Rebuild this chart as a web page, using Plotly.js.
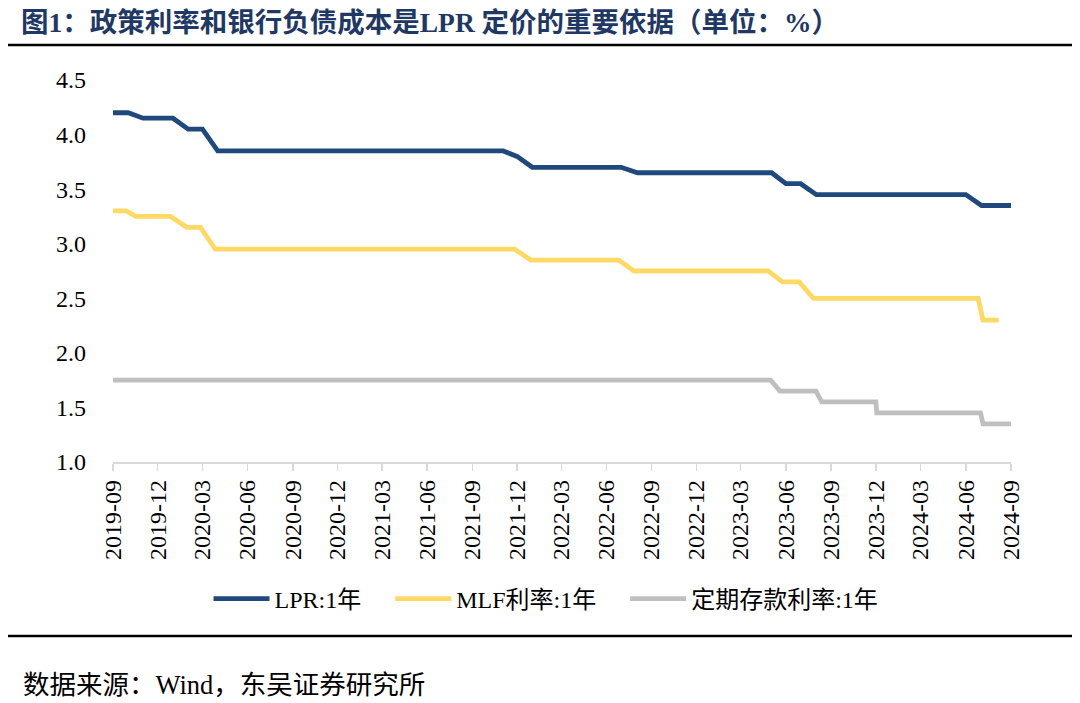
<!DOCTYPE html>
<html>
<head>
<meta charset="utf-8">
<script src="https://cdn.plot.ly/plotly-3.0.1.min.js"></script>
<style>
  html, body { margin: 0; padding: 0; background: #ffffff; }
  #chart { width: 1080px; height: 703px; }
</style>
</head>
<body>
<div id="chart"></div>
<script>
// ---------- data ----------
const chartTitle = '图1：政策利率和银行负债成本是LPR 定价的重要依据（单位：%）';
const sourceText = '数据来源：Wind，东吴证券研究所';
const seriesNames = ['LPR:1年', 'MLF利率:1年', '定期存款利率:1年'];

// LPR (monthly fixing dates)
const lprDates = [
  '2019-09-20','2019-10-21','2019-11-20','2019-12-20','2020-01-20','2020-02-20','2020-03-20','2020-04-20',
  '2020-05-20','2020-06-22','2020-07-20','2020-08-20','2020-09-21','2020-10-20','2020-11-20','2020-12-21',
  '2021-01-20','2021-02-20','2021-03-22','2021-04-20','2021-05-20','2021-06-21','2021-07-20','2021-08-20',
  '2021-09-22','2021-10-20','2021-11-22','2021-12-20','2022-01-20','2022-02-21','2022-03-21','2022-04-20',
  '2022-05-20','2022-06-20','2022-07-20','2022-08-22','2022-09-20','2022-10-20','2022-11-21','2022-12-20',
  '2023-01-20','2023-02-20','2023-03-20','2023-04-20','2023-05-22','2023-06-20','2023-07-20','2023-08-21',
  '2023-09-20','2023-10-20','2023-11-20','2023-12-20','2024-01-22','2024-02-20','2024-03-20','2024-04-22',
  '2024-05-20','2024-06-20','2024-07-22','2024-08-20','2024-09-20'
];
const lprValues = [
  4.20,4.20,4.15,4.15,4.15,4.05,4.05,3.85,
  3.85,3.85,3.85,3.85,3.85,3.85,3.85,3.85,
  3.85,3.85,3.85,3.85,3.85,3.85,3.85,3.85,
  3.85,3.85,3.85,3.80,3.70,3.70,3.70,3.70,
  3.70,3.70,3.70,3.65,3.65,3.65,3.65,3.65,
  3.65,3.65,3.65,3.65,3.65,3.55,3.55,3.45,
  3.45,3.45,3.45,3.45,3.45,3.45,3.45,3.45,
  3.45,3.45,3.35,3.35,3.35
];

// MLF (operation dates)
const mlfDates = [
  '2019-09-17','2019-10-17','2019-11-05','2019-12-16','2020-01-15','2020-02-17','2020-03-16','2020-04-15',
  '2020-05-15','2020-06-15','2020-07-15','2020-08-17','2020-09-15','2020-10-15','2020-11-16','2020-12-15',
  '2021-01-15','2021-02-18','2021-03-15','2021-04-15','2021-05-17','2021-06-15','2021-07-15','2021-08-16',
  '2021-09-15','2021-10-15','2021-11-15','2021-12-15','2022-01-17','2022-02-15','2022-03-15','2022-04-15',
  '2022-05-16','2022-06-15','2022-07-15','2022-08-15','2022-09-15','2022-10-17','2022-11-15','2022-12-15',
  '2023-01-17','2023-02-15','2023-03-15','2023-04-17','2023-05-15','2023-06-13','2023-07-17','2023-08-15',
  '2023-09-15','2023-10-16','2023-11-15','2023-12-15','2024-01-15','2024-02-18','2024-03-15','2024-04-17',
  '2024-05-17','2024-06-17','2024-07-15','2024-07-25','2024-08-26'
];
const mlfValues = [
  3.30,3.30,3.25,3.25,3.25,3.15,3.15,2.95,
  2.95,2.95,2.95,2.95,2.95,2.95,2.95,2.95,
  2.95,2.95,2.95,2.95,2.95,2.95,2.95,2.95,
  2.95,2.95,2.95,2.95,2.85,2.85,2.85,2.85,
  2.85,2.85,2.85,2.75,2.75,2.75,2.75,2.75,
  2.75,2.75,2.75,2.75,2.75,2.65,2.65,2.50,
  2.50,2.50,2.50,2.50,2.50,2.50,2.50,2.50,
  2.50,2.50,2.50,2.30,2.30
];

// 1-year time deposit rate (change dates)
const depDates = [
  '2019-09-20','2023-05-20','2023-06-08','2023-08-20','2023-09-01',
  '2023-12-20','2023-12-22','2024-07-20','2024-07-25','2024-09-20'
];
const depValues = [1.75,1.75,1.65,1.65,1.55,1.55,1.45,1.45,1.35,1.35];

const seriesColors = ['#1F497D', '#FFD966', '#BFBFBF'];

// ---------- chart ----------
const FONT = "'Liberation Serif', 'Times New Roman', 'Noto Sans CJK SC', serif";
const W = 1080, H = 703;
const M = {l: 113, r: 69, t: 80, b: 241};
const pw = W - M.l - M.r, ph = H - M.t - M.b;
const px = x => (x - M.l) / pw;          // page x -> paper x
const py = y => (H - M.b - y) / ph;       // page y -> paper y
const GAP = '\u00A0\u00A0\u00A0\u00A0'; // spacing after each legend entry

const traces = [
  {x: lprDates, y: lprValues, name: seriesNames[0]},
  {x: mlfDates, y: mlfValues, name: seriesNames[1]},
  {x: depDates, y: depValues, name: seriesNames[2]}
].map((t, i) => Object.assign(t, {
  type: 'scatter', mode: 'lines',
  name: t.name + (i < 2 ? GAP : ''),
  line: {color: seriesColors[i], width: 4.8, shape: 'linear'},
  hoverinfo: 'x+y+name'
}));

const layout = {
  width: W, height: H,
  margin: M,
  paper_bgcolor: '#ffffff', plot_bgcolor: '#ffffff',
  font: {family: FONT, size: 24, color: '#000000'},
  showlegend: true,
  title: {
    text: '<b>' + chartTitle + '</b>',
    font: {family: FONT, size: 27.5, color: '#1F3864'},
    xref: 'container', yref: 'container',
    x: 21 / W, xanchor: 'left',
    y: 1 - 22 / H, yanchor: 'middle'
  },
  xaxis: {
    type: 'date',
    range: ['2019-09-20', '2024-09-20'],
    tick0: '2019-09-20', dtick: 'M3',
    tickformat: '%Y-%m',
    tickangle: -90,
    ticks: 'outside', ticklen: 7, tickwidth: 1.5, tickcolor: '#D9D9D9',
    showline: true, linecolor: '#D9D9D9', linewidth: 1.5,
    showgrid: false, zeroline: false,
    tickfont: {family: FONT, size: 24, color: '#000000'}
  },
  yaxis: {
    range: [1, 4.5], dtick: 0.5, tick0: 1, tickformat: '.1f',
    showline: false, showgrid: false, zeroline: false,
    ticks: '', ticklabelstandoff: 26,
    tickfont: {family: FONT, size: 24, color: '#000000'}
  },
  legend: {
    orientation: 'h',
    x: px(546), xanchor: 'center',
    y: py(599), yanchor: 'middle',
    font: {family: FONT, size: 24, color: '#000000'},
    itemwidth: 56,
    bgcolor: 'rgba(0,0,0,0)'
  },
  shapes: [
    {type: 'line', xref: 'paper', yref: 'paper', x0: px(8), x1: px(1072), y0: py(45), y1: py(45),
     line: {color: '#000000', width: 2.5}},
    {type: 'line', xref: 'paper', yref: 'paper', x0: px(8), x1: px(1072), y0: py(636), y1: py(636),
     line: {color: '#000000', width: 2.5}}
  ],
  annotations: [
    {text: sourceText, xref: 'paper', yref: 'paper', x: px(21), y: py(685),
     xanchor: 'left', yanchor: 'middle', showarrow: false,
     font: {family: FONT, size: 26.5, color: '#000000'}}
  ]
};

Plotly.newPlot('chart', traces, layout, {displayModeBar: false, staticPlot: true});
</script>
</body>
</html>
